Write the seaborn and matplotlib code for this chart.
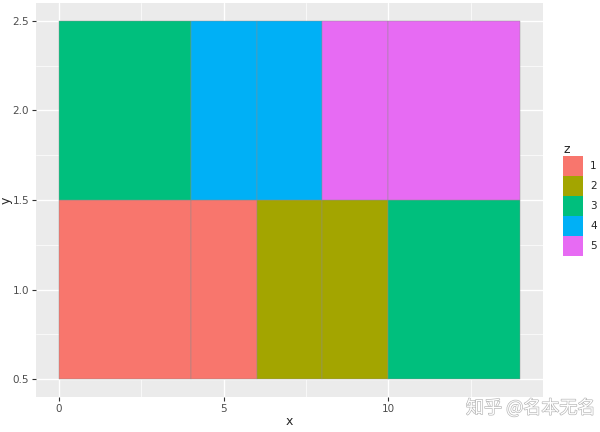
import matplotlib
matplotlib.use("Agg")
import matplotlib.pyplot as plt
import matplotlib.patheffects as pe
from matplotlib.patches import Patch
import seaborn as sns
import pandas as pd

# data (ggplot2 geom_tile example with variable widths)
x_centers = [2, 5, 7, 9, 12, 2, 5, 7, 9, 12]
y_centers = [1, 1, 1, 1, 1, 2, 2, 2, 2, 2]
z_values = ["1", "1", "2", "2", "3", "3", "4", "4", "5", "5"]
widths = [4, 2, 2, 2, 4, 4, 2, 2, 2, 4]
z_levels = ["1", "2", "3", "4", "5"]
palette = ["#F8766D", "#A3A500", "#00BF7D", "#00B0F6", "#E76BF3"]

df = pd.DataFrame({"x": x_centers, "y": y_centers, "z": z_values, "w": widths})

sns.set_style("darkgrid", {"axes.facecolor": "#EBEBEB", "grid.color": "white"})
plt.rcParams["font.family"] = ["DejaVu Sans"]

fig = plt.figure(figsize=(6, 4.32), dpi=100)
ax = fig.add_axes([36 / 600, 1 - 397 / 432, (543 - 36) / 600, (397 - 3) / 432])
ax.set_facecolor("#EBEBEB")

cmap = dict(zip(z_levels, palette))
for _, r in df.iterrows():
    ax.bar(r["x"], 1, width=r["w"], bottom=r["y"] - 0.5, color=cmap[r["z"]],
           edgecolor="#8C8C8C", linewidth=0.3, zorder=3)

ax.set_xlim(-0.7, 14.7)
ax.set_ylim(0.4, 2.6)
ax.set_xticks([0, 5, 10])
ax.set_xticks([2.5, 7.5, 12.5], minor=True)
ax.set_yticks([0.5, 1.0, 1.5, 2.0, 2.5])
ax.set_yticklabels(["0.5", "1.0", "1.5", "2.0", "2.5"])
ax.set_yticks([0.75, 1.25, 1.75, 2.25], minor=True)
ax.grid(which="major", color="white", linewidth=1.0, zorder=0)
ax.grid(which="minor", color="white", linewidth=0.5, zorder=0)
ax.set_axisbelow(True)
for s in ax.spines.values():
    s.set_visible(False)
ax.tick_params(which="major", length=3, width=0.8, color="#333333",
               labelsize=7.5, labelcolor="#4D4D4D", pad=2, left=True, bottom=True)
ax.tick_params(which="minor", length=0)
ax.set_xlabel("x", fontsize=9, labelpad=1)
ax.set_ylabel("y", fontsize=9)
ax.yaxis.set_label_coords(-(36 - 13) / 507, 0.5)

handles = [Patch(facecolor=c, edgecolor="none") for c in palette]
leg = fig.legend(handles, z_levels, title="z", loc="upper left",
                 bbox_to_anchor=(559 / 600, 1 - 139 / 432), frameon=False,
                 fontsize=7.5, title_fontsize=9, handlelength=1.9, handleheight=2.58,
                 labelspacing=0, handletextpad=0.7, borderaxespad=0)
leg._legend_box.align = "left"

fig.text(595 / 600, 1 - 408 / 432, "知乎 @名本无名", ha="right", va="center",
         fontsize=13, color="white", family=["Noto Sans CJK SC", "DejaVu Sans"],
         path_effects=[pe.withStroke(linewidth=0.9, foreground="#b4b4b4")])

fig.savefig("out.png", dpi=100)
